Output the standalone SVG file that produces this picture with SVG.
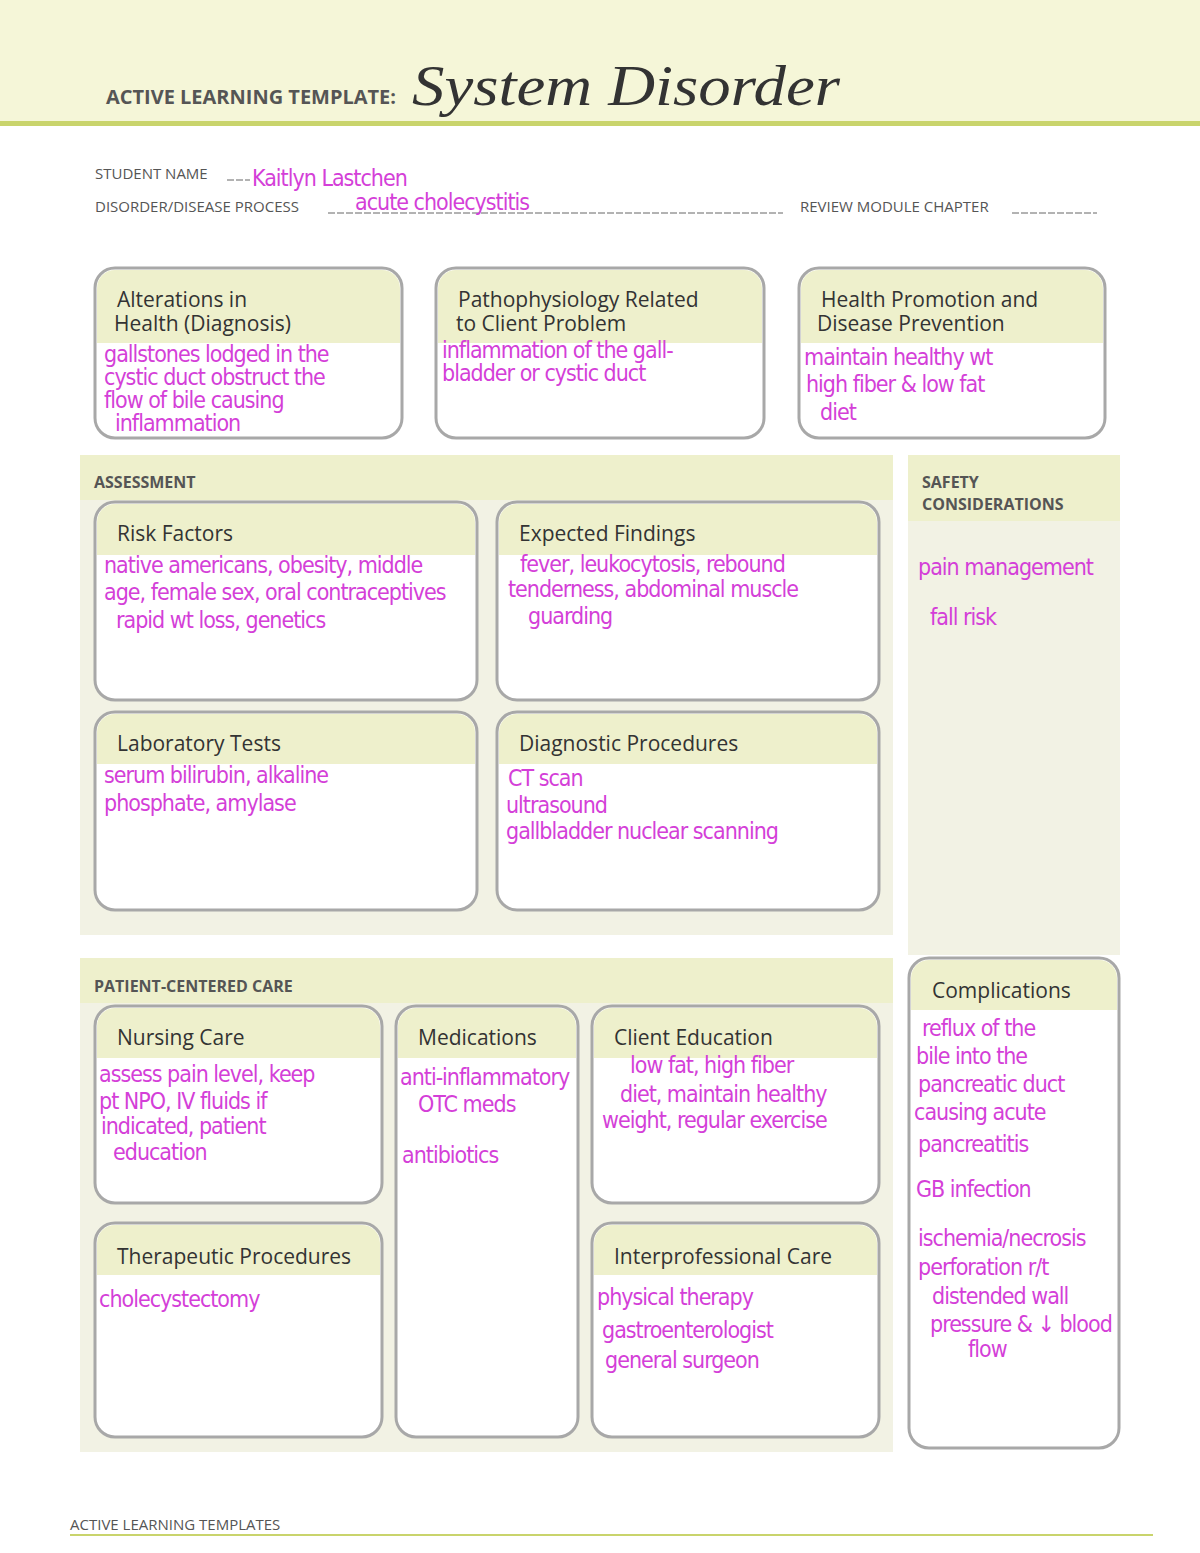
<svg xmlns="http://www.w3.org/2000/svg" width="1200" height="1553" viewBox="0 0 1200 1553">
<style>
.lbl{font-family:"Open Sans","Liberation Sans",sans-serif;font-size:21px;fill:#333}
.sec{font-family:"Open Sans","Liberation Sans",sans-serif;font-size:16px;font-weight:bold;fill:#555}
.sm{font-family:"Open Sans","Liberation Sans",sans-serif;font-size:15px;fill:#555}
.hw{font-family:"DejaVu Sans Condensed","DejaVu Sans",sans-serif;font-size:23px;fill:#d43fd8;letter-spacing:-1px}
.box{fill:#fff;stroke:#a8a8a8;stroke-width:3}
.hd{fill:#eef0cc}
.panel{fill:#f2f2e4}
.ul{stroke:#666;stroke-width:1;stroke-dasharray:7,2}
</style>
<rect width="1200" height="1553" fill="#fff"/>
<rect width="1200" height="122" fill="#f5f6d8"/>
<rect y="121" width="1200" height="5" fill="#c9d46c"/>
<text x="106" y="104" font-family="Open Sans,Liberation Sans,sans-serif" font-size="19" font-weight="bold" fill="#555" textLength="290" lengthAdjust="spacingAndGlyphs">ACTIVE LEARNING TEMPLATE:</text>
<text x="412" y="105" font-family="Liberation Serif,serif" font-style="italic" font-size="58" fill="#333" textLength="428" lengthAdjust="spacingAndGlyphs">System Disorder</text>
<text x="95" y="179" class="sm">STUDENT NAME</text>
<line class="ul" x1="227" y1="180" x2="250" y2="180"/>
<text x="95" y="212" class="sm">DISORDER/DISEASE PROCESS</text>
<line class="ul" x1="328" y1="213" x2="783" y2="213"/>
<text x="800" y="212" class="sm">REVIEW MODULE CHAPTER</text>
<line class="ul" x1="1012" y1="213" x2="1097" y2="213"/>
<text x="252" y="186" class="hw" font-size="38">Kaitlyn Lastchen</text>
<text x="355" y="210" class="hw" font-size="34">acute cholecystitis</text>
<g id="alterations"><rect class="box" x="95" y="268" width="307" height="170" rx="20"/><path class="hd" d="M97,343V288a18,18 0 0 1 18,-18H382a18,18 0 0 1 18,18V343Z"/>
<text class="lbl" x="117" y="307">Alterations in</text><text class="lbl" x="114" y="331">Health (Diagnosis)</text>
<text class="hw" x="104" y="362" font-size="21">gallstones lodged in the</text><text class="hw" x="104" y="385" font-size="21">cystic duct obstruct the</text><text class="hw" x="104" y="408" font-size="21">flow of bile causing</text><text class="hw" x="115" y="431" font-size="21">inflammation</text></g>
<g id="patho"><rect class="box" x="436" y="268" width="328" height="170" rx="20"/><path class="hd" d="M438,343V288a18,18 0 0 1 18,-18H744a18,18 0 0 1 18,18V343Z"/>
<text class="lbl" x="458" y="307">Pathophysiology Related</text><text class="lbl" x="456" y="331">to Client Problem</text>
<text class="hw" x="442" y="358" font-size="21">inflammation of the gall-</text><text class="hw" x="442" y="381" font-size="21">bladder  or cystic duct</text></g>
<g id="health"><rect class="box" x="799" y="268" width="306" height="170" rx="20"/><path class="hd" d="M801,343V288a18,18 0 0 1 18,-18H1085a18,18 0 0 1 18,18V343Z"/>
<text class="lbl" x="821" y="307">Health Promotion and</text><text class="lbl" x="817" y="331">Disease Prevention</text>
<text class="hw" x="804" y="365">maintain healthy wt</text><text class="hw" x="806" y="392">high fiber &amp; low fat</text><text class="hw" x="820" y="420">diet</text></g>
<rect class="panel" x="80" y="455" width="813" height="480"/>
<rect fill="#eef0cc" x="80" y="455" width="813" height="45"/>
<text class="sec" x="94" y="488">ASSESSMENT</text>
<rect class="panel" x="908" y="455" width="212" height="500"/>
<rect fill="#eef0cc" x="908" y="455" width="212" height="66"/>
<text class="sec" x="922" y="488">SAFETY</text><text class="sec" x="922" y="510">CONSIDERATIONS</text>
<text class="hw" x="918" y="575" font-size="27">pain management</text><text class="hw" x="930" y="625" font-size="27">fall risk</text>
<g id="risk"><rect class="box" x="95" y="502" width="382" height="198" rx="20"/><path class="hd" d="M97,555V522a18,18 0 0 1 18,-18H457a18,18 0 0 1 18,18V555Z"/>
<text class="lbl" x="117" y="541">Risk Factors</text>
<text class="hw" x="104" y="573">native americans, obesity, middle</text><text class="hw" x="104" y="600">age, female sex, oral contraceptives</text><text class="hw" x="116" y="628">rapid wt loss, genetics</text></g>
<g id="expected"><rect class="box" x="497" y="502" width="382" height="198" rx="20"/><path class="hd" d="M499,555V522a18,18 0 0 1 18,-18H859a18,18 0 0 1 18,18V555Z"/>
<text class="lbl" x="519" y="541">Expected Findings</text>
<text class="hw" x="520" y="572">fever, leukocytosis, rebound</text><text class="hw" x="508" y="597">tenderness, abdominal muscle</text><text class="hw" x="528" y="624">guarding</text></g>
<g id="lab"><rect class="box" x="95" y="712" width="382" height="198" rx="20"/><path class="hd" d="M97,764V732a18,18 0 0 1 18,-18H457a18,18 0 0 1 18,18V764Z"/>
<text class="lbl" x="117" y="751">Laboratory Tests</text>
<text class="hw" x="104" y="783">serum bilirubin, alkaline</text><text class="hw" x="104" y="811">phosphate, amylase</text></g>
<g id="diag"><rect class="box" x="497" y="712" width="382" height="198" rx="20"/><path class="hd" d="M499,764V732a18,18 0 0 1 18,-18H859a18,18 0 0 1 18,18V764Z"/>
<text class="lbl" x="519" y="751">Diagnostic Procedures</text>
<text class="hw" x="508" y="786">CT scan</text><text class="hw" x="506" y="813">ultrasound</text><text class="hw" x="506" y="839">gallbladder nuclear scanning</text></g>
<rect class="panel" x="80" y="958" width="813" height="494"/>
<rect fill="#eef0cc" x="80" y="958" width="813" height="45"/>
<text class="sec" x="94" y="992">PATIENT-CENTERED CARE</text>
<g id="nursing"><rect class="box" x="95" y="1006" width="287" height="197" rx="20"/><path class="hd" d="M97,1058V1026a18,18 0 0 1 18,-18H362a18,18 0 0 1 18,18V1058Z"/>
<text class="lbl" x="117" y="1045">Nursing Care</text>
<text class="hw" x="99" y="1082">assess pain level, keep</text><text class="hw" x="99" y="1109">pt NPO, IV fluids if</text><text class="hw" x="101" y="1134">indicated, patient</text><text class="hw" x="113" y="1160">education</text></g>
<g id="meds"><rect class="box" x="396" y="1006" width="182" height="431" rx="20"/><path class="hd" d="M398,1058V1026a18,18 0 0 1 18,-18H558a18,18 0 0 1 18,18V1058Z"/>
<text class="lbl" x="418" y="1045">Medications</text>
<text class="hw" x="400" y="1085">anti-inflammatory</text><text class="hw" x="418" y="1112">OTC meds</text><text class="hw" x="402" y="1163">antibiotics</text></g>
<g id="clientedu"><rect class="box" x="592" y="1006" width="287" height="197" rx="20"/><path class="hd" d="M594,1058V1026a18,18 0 0 1 18,-18H859a18,18 0 0 1 18,18V1058Z"/>
<text class="lbl" x="614" y="1045">Client Education</text>
<text class="hw" x="630" y="1073">low fat, high fiber</text><text class="hw" x="620" y="1102">diet, maintain healthy</text><text class="hw" x="602" y="1128">weight, regular exercise</text></g>
<g id="thera"><rect class="box" x="95" y="1223" width="287" height="214" rx="20"/><path class="hd" d="M97,1275V1243a18,18 0 0 1 18,-18H362a18,18 0 0 1 18,18V1275Z"/>
<text class="lbl" x="117" y="1264">Therapeutic Procedures</text>
<text class="hw" x="99" y="1307" font-size="30">cholecystectomy</text></g>
<g id="interpro"><rect class="box" x="592" y="1223" width="287" height="214" rx="20"/><path class="hd" d="M594,1275V1243a18,18 0 0 1 18,-18H859a18,18 0 0 1 18,18V1275Z"/>
<text class="lbl" x="614" y="1264">Interprofessional Care</text>
<text class="hw" x="597" y="1305" font-size="26">physical therapy</text><text class="hw" x="602" y="1338" font-size="26">gastroenterologist</text><text class="hw" x="605" y="1368" font-size="26">general surgeon</text></g>
<g id="complications"><rect class="box" x="909" y="958" width="210" height="490" rx="20"/><path class="hd" d="M911,1010V978a18,18 0 0 1 18,-18H1099a18,18 0 0 1 18,18V1010Z"/>
<text class="lbl" x="932" y="998">Complications</text>
<text class="hw" x="922" y="1036">reflux of the</text><text class="hw" x="916" y="1064">bile into the</text><text class="hw" x="918" y="1092">pancreatic duct</text><text class="hw" x="914" y="1120">causing acute</text><text class="hw" x="918" y="1152">pancreatitis</text><text class="hw" x="916" y="1197">GB infection</text><text class="hw" x="918" y="1246">ischemia/necrosis</text><text class="hw" x="918" y="1275">perforation r/t</text><text class="hw" x="932" y="1304">distended wall</text><text class="hw" x="930" y="1332">pressure &amp; ↓ blood</text><text class="hw" x="968" y="1357">flow</text></g>
<text x="70" y="1530" font-family="Open Sans,Liberation Sans,sans-serif" font-size="15" fill="#555">ACTIVE LEARNING TEMPLATES</text>
<rect x="70" y="1534" width="1083" height="2" fill="#c9d46c"/>
</svg>
